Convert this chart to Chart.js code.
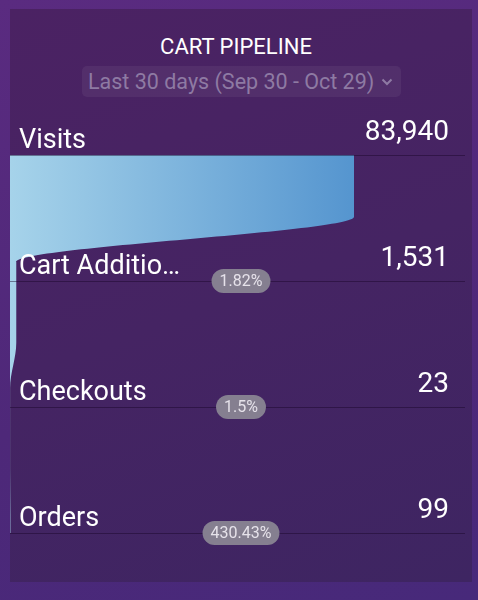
<!DOCTYPE html>
<html>
<head>
<meta charset="utf-8">
<script src="https://cdn.jsdelivr.net/npm/chart.js@4.4.1/dist/chart.umd.min.js"></script>
<style>
    html, body { margin: 0; padding: 0; }
    body {
        width: 478px; height: 600px; overflow: hidden; position: relative;
        background: linear-gradient(165deg, #5a2b80 0%, #4e2879 60%, #47297a 100%);
        font-family: Roboto, sans-serif;
    }
    #panel {
        position: absolute; left: 10px; top: 9px; width: 462px; height: 573px;
        background: linear-gradient(160deg, #4b2263 0%, #452463 50%, #3e2562 100%);
    }
    #title {
        position: absolute; left: 0; width: 472px; top: 33px;
        text-align: center; color: #fff; font-size: 22px; line-height: 28px;
    }
    #range {
        position: absolute; left: 82px; top: 66px; width: 319px; height: 31px;
        border-radius: 5px; background: rgba(255, 255, 255, 0.055);
        color: #8e7aa3; font-size: 21.5px; line-height: 31px; box-sizing: border-box;
        padding-left: 6px; white-space: nowrap;
    }
    #range svg { position: absolute; right: 8px; top: 12px; }
    canvas { position: absolute; left: 0; top: 0; }
</style>
</head>
<body>
<div id="panel"></div>
<div id="title">CART PIPELINE</div>
<div id="range">Last 30 days (Sep 30 - Oct 29)
    <svg width="12" height="8" viewBox="0 0 12 8"><polyline points="1.5,1.5 6,6 10.5,1.5" fill="none" stroke="#8e7aa3" stroke-width="2"/></svg>
</div>
<canvas id="funnelChart" width="478" height="600"></canvas>
<script>
// Funnel stages and their counts
const stages = ['Visits', 'Cart Additions', 'Checkouts', 'Orders'];
const counts = [83940, 1531, 23, 99];
const conversions = ['1.82%', '1.5%', '430.43%'];

// each stage holds its width for a while, then eases into the next one
const funnelPoints = [];
counts.forEach((v, i) => {
    funnelPoints.push({x: v, y: Math.max(0, i - 0.15)});
    funnelPoints.push({x: v, y: Math.min(counts.length - 1, i + 0.49)});
});

function fitText(ctx, text, maxWidth) {
    if (ctx.measureText(text).width <= maxWidth) return text;
    let t = text;
    while (t.length > 1 && ctx.measureText(t + '…').width > maxWidth) t = t.slice(0, -1);
    return t + '…';
}

const stageLabels = {
    id: 'stageLabels',
    afterDatasetsDraw(chart) {
        const ctx = chart.ctx;
        const yScale = chart.scales.y;
        ctx.save();
        stages.forEach((name, i) => {
            const y = Math.round(yScale.getPixelForValue(i));

            ctx.strokeStyle = 'rgba(25, 5, 40, 0.45)';
            ctx.lineWidth = 1;
            ctx.beginPath();
            ctx.moveTo(10, y + 0.5);
            ctx.lineTo(465, y + 0.5);
            ctx.stroke();

            ctx.fillStyle = '#ffffff';
            ctx.font = '27px Roboto';
            ctx.textBaseline = 'alphabetic';
            ctx.textAlign = 'left';
            ctx.fillText(fitText(ctx, name, 163), 19, y - 7);

            ctx.font = '28px Roboto';
            ctx.textAlign = 'right';
            ctx.fillText(counts[i].toLocaleString('en-US'), 449, y - 15);

            if (i > 0) {
                const txt = conversions[i - 1];
                ctx.font = '16px Roboto';
                const w = ctx.measureText(txt).width + 16;
                const h = 24;
                ctx.fillStyle = '#857f90';
                ctx.beginPath();
                ctx.roundRect(241 - w / 2, y - h / 2, w, h, h / 2);
                ctx.fill();
                ctx.fillStyle = '#e6e2ea';
                ctx.textAlign = 'center';
                ctx.textBaseline = 'middle';
                ctx.fillText(txt, 241, y + 1);
            }
        });
        ctx.restore();
    }
};

const ctx = document.getElementById('funnelChart').getContext('2d');
new Chart(ctx, {
    type: 'line',
    data: {
        datasets: [{
            data: funnelPoints,
            fill: 'origin',
            borderWidth: 0,
            pointRadius: 0,
            cubicInterpolationMode: 'monotone',
            backgroundColor: (c) => {
                const area = c.chart.chartArea;
                if (!area) return '#7db3dc';
                const g = c.chart.ctx.createLinearGradient(area.left, 0, area.right, 0);
                g.addColorStop(0, '#a6d3ea');
                g.addColorStop(1, '#5595cf');
                return g;
            }
        }]
    },
    options: {
        indexAxis: 'y',
        responsive: false,
        animation: false,
        layout: { padding: { left: 10, top: 155, right: 124, bottom: 67 } },
        scales: {
            x: { type: 'linear', min: 0, max: counts[0], display: false },
            y: { type: 'linear', min: 0, max: counts.length - 1, reverse: true, display: false }
        },
        plugins: {
            legend: { display: false },
            tooltip: { enabled: false }
        }
    },
    plugins: [stageLabels]
});
</script>
</body>
</html>
